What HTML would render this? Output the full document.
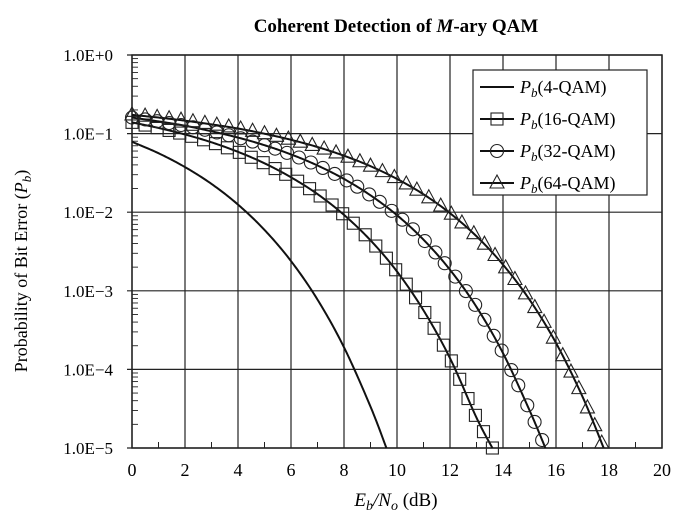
<!DOCTYPE html>
<html><head><meta charset="utf-8"><style>
body{margin:0;background:#fff}
svg{display:block;font-family:"Liberation Serif",serif}
</style></head><body>
<svg id="chart" width="685" height="523" viewBox="0 0 685 523" xmlns="http://www.w3.org/2000/svg">
<text x="396" y="32" text-anchor="middle" font-size="19" font-weight="bold">Coherent Detection of <tspan font-style="italic">M</tspan>-ary QAM</text>
<g id="grid"></g>
<g id="axes"></g>
<g id="series"></g>
<text transform="translate(27,271) rotate(-90)" text-anchor="middle" font-size="18">Probability of Bit Error (<tspan font-style="italic">P</tspan><tspan font-style="italic" font-size="13" dy="4">b</tspan><tspan dy="-4">)</tspan></text>
<text x="396" y="506" text-anchor="middle" font-size="19"><tspan font-style="italic">E</tspan><tspan font-style="italic" font-size="14" dy="4">b</tspan><tspan font-style="italic" dy="-4">/N</tspan><tspan font-style="italic" font-size="14" dy="4">o</tspan><tspan dy="-4"> (dB)</tspan></text>
<g id="legend"></g>
</svg>
<script>
const xTicks=[0,2,4,6,8,10,12,14,16,18,20];
const yTickLabels=["1.0E+0","1.0E\u22121","1.0E\u22122","1.0E\u22123","1.0E\u22124","1.0E\u22125"];
const seriesNames=["4-QAM","16-QAM","32-QAM","64-QAM"];
const x4=[0,1,2,3,4,5,6,7,8,9,9.6];
const y4=[0.0786,0.0563,0.0375,0.0229,0.0125,0.00595,0.00239,0.000773,0.000191,0.0000336,0.00001];
const x16=[0,1,2,3,4,5,6,7,8,9,10,11,12,13,13.6];
const y16=[0.139,0.118,0.0975,0.0775,0.0586,0.0419,0.0278,0.017,0.00924,0.00439,0.00176,0.000564,0.000139,0.0000243,0.00001];
const x32=[0,1,2,3,4,5,6,7,8,9,10,11,12,13,14,15,15.6];
const y32=[0.16,0.143,0.126,0.107,0.089,0.0712,0.0544,0.0393,0.0265,0.0164,0.00916,0.00447,0.00185,0.000623,0.000161,0.0000302,0.00001];
const x64=[0,1,2,3,4,5,6,7,8,9,10,11,12,13,14,15,16,17,17.8];
const y64=[0.173,0.16,0.146,0.131,0.116,0.0996,0.0834,0.0675,0.0523,0.0385,0.0265,0.0169,0.00972,0.00494,0.00215,0.000772,0.000217,0.000045,0.00001];

const NS="http://www.w3.org/2000/svg";
const L=132,R=662,T=55,B=448;
const X=v=>L+(v-0)/20*(R-L);
const Y=p=>T+(-Math.log10(p))/5*(B-T);
function mk(tag,attrs,parent){const e=document.createElementNS(NS,tag);for(const k in attrs)e.setAttribute(k,attrs[k]);parent.appendChild(e);return e;}
const grid=document.getElementById('grid'),axes=document.getElementById('axes'),ser=document.getElementById('series'),leg=document.getElementById('legend');
xTicks.forEach((t,i)=>{
  const l=mk('line',{x1:X(t),x2:X(t),y1:T,y2:B,stroke:'#222','stroke-width':1.2},grid);
  
  
  const tx=mk('text',{x:X(t),y:476,'text-anchor':'middle','font-size':18},axes);
  tx.textContent=t;
  
  
  if(t<20){const m=mk('line',{x1:X(t+1),x2:X(t+1),y1:B,y2:B-6,stroke:'#222','stroke-width':1},axes);
  
  }
});
yTickLabels.forEach((s,i)=>{
  const y=Y(Math.pow(10,-i));
  const l=mk('line',{x1:L-5,x2:R,y1:y,y2:y,stroke:'#222','stroke-width':1.2},grid);
  
  
  const tx=mk('text',{x:113,y:y+6,'text-anchor':'end','font-size':17},axes);
  tx.textContent=s;
  
  
  if(i<5){for(let k=2;k<=9;k++){const yy=Y(k*Math.pow(10,-i-1));
    const m=mk('line',{x1:L,x2:L+6,y1:yy,y2:yy,stroke:'#222','stroke-width':0.9},axes);
    
    }}
});
const frame=mk('rect',{x:L,y:T,width:R-L,height:B-T,fill:'none',stroke:'#222','stroke-width':1.5},axes);



function smoothPts(xs,ys){
  const p=xs.map((x,i)=>[X(x),Y(ys[i])]);const out=[];
  for(let i=0;i<p.length-1;i++){
    const p0=p[Math.max(0,i-1)],p1=p[i],p2=p[i+1],p3=p[Math.min(p.length-1,i+2)];
    for(let s=0;s<20;s++){const t=s/20,t2=t*t,t3=t2*t;
      const f=(a,b,c,d)=>0.5*((2*b)+(-a+c)*t+(2*a-5*b+4*c-d)*t2+(-a+3*b-3*c+d)*t3);
      out.push([f(p0[0],p1[0],p2[0],p3[0]),f(p0[1],p1[1],p2[1],p3[1])]);}
  }
  out.push(p[p.length-1]);return out;
}
function marker(type,x,y,parent){
  let e;
  if(type==='sq')e=mk('rect',{x:x-6,y:y-6,width:12,height:12},parent);
  else if(type==='ci')e=mk('circle',{cx:x,cy:y,r:6.5},parent);
  else e=mk('polygon',{points:`${x},${y-8} ${x-7},${y+5} ${x+7},${y+5}`},parent);
  e.setAttribute('fill','none');e.setAttribute('stroke','#222');e.setAttribute('stroke-width','1.1');
  return e;
}
const all=[[x4,y4,null],[x16,y16,'sq'],[x32,y32,'ci'],[x64,y64,'tr']];
all.forEach((s,si)=>{
  const g=mk('g',{},ser);
  
  
  const pts=smoothPts(s[0],s[1]);
  const path=mk('polyline',{points:pts.map(p=>p.join(',')).join(' '),fill:'none',stroke:'#111','stroke-width':2},g);
  
  
  if(s[2]){
    const step=12;let acc=0;
    let m=marker(s[2],pts[0][0],pts[0][1],g);
    
    
    for(let i=1;i<pts.length;i++){
      const d=Math.hypot(pts[i][0]-pts[i-1][0],0.5*(pts[i][1]-pts[i-1][1]));acc+=d;
      if(acc>=step){acc-=step;
        m=marker(s[2],pts[i][0],pts[i][1],g);
        
        }
    }
  }
});
const lb=mk('rect',{x:473,y:70,width:174,height:125,fill:'#fff',stroke:'#222','stroke-width':1.2},leg);


const mt=[null,'sq','ci','tr'];
seriesNames.forEach((n,i)=>{
  const y=87+i*32;
  const g=mk('g',{},leg);
  
  
  mk('line',{x1:480,x2:514,y1:y,y2:y,stroke:'#111','stroke-width':2},g);
  if(mt[i])marker(mt[i],497,y,g);
  const t=mk('text',{x:520,y:y+6,'font-size':18},g);
  t.innerHTML='<tspan font-style="italic">P</tspan><tspan font-style="italic" font-size="13" dy="4">b</tspan><tspan dy="-4">('+n+')</tspan>';
});
</script>
</body></html>
